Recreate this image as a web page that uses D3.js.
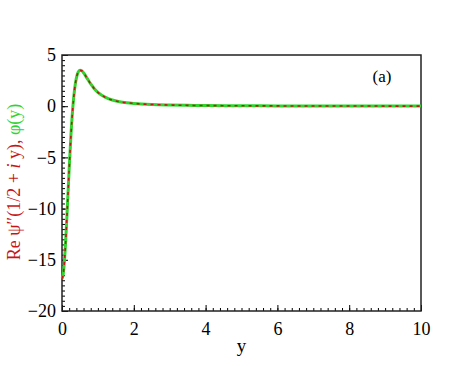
<!DOCTYPE html>
<html lang="en">
<head>
    <meta charset="UTF-8">
    <title>psi</title>
    <script src="https://cdn.jsdelivr.net/npm/d3@7"></script>
    <style>
        body{ margin:0; background:#fff; }
        svg text{ font-family: "Liberation Serif", "Times New Roman", serif; }
    </style>
</head>
<body>
    <svg id="main-svg" width="474" height="366"></svg>

    <script>
        // values
        const ys = [0, 0.025, 0.05, 0.1, 0.15, 0.2, 0.25, 0.3, 0.35, 0.4, 0.45, 0.5, 0.55, 0.6, 0.7, 0.8, 0.9, 1.0,
                    1.2, 1.4, 1.6, 1.8, 2.0, 2.5, 3.0, 3.5, 4, 5, 6, 7, 8, 9, 10];
        const rePsi = [-16.83, -16.59, -15.89, -13.33, -9.81, -6.10, -2.78, -0.18, 1.63, 2.74, 3.32, 3.51, 3.46, 3.27, 2.72, 2.17, 1.71, 1.35,
                    0.88, 0.60, 0.44, 0.34, 0.27, 0.167, 0.115, 0.083, 0.064, 0.040, 0.028, 0.021, 0.016, 0.012, 0.010];
        const phi = [-16.83, -16.59, -15.89, -13.33, -9.81, -6.10, -2.78, -0.18, 1.63, 2.74, 3.32, 3.51, 3.46, 3.27, 2.72, 2.17, 1.71, 1.35,
                    0.88, 0.60, 0.44, 0.34, 0.27, 0.167, 0.115, 0.083, 0.064, 0.040, 0.028, 0.021, 0.016, 0.012, 0.010];
        const xTicks = [0, 2, 4, 6, 8, 10];
        const yTicks = [-20, -15, -10, -5, 0, 5];

        const W = 474, H = 366;
        const m = {l: 62, r: 53, t: 55, b: 55};
        const svg = d3.select('#main-svg');

        const x = d3.scaleLinear().domain([0, 10]).range([m.l, W - m.r]);
        const y = d3.scaleLinear().domain([-20, 5]).range([H - m.b, m.t]);

        const fmt = d => d < 0 ? '\u2212' + Math.abs(d) : String(d);

        // minor ticks
        svg.append('g')
            .attr('transform', 'translate(0,' + (H - m.b) + ')')
            .call(d3.axisBottom(x).tickValues(d3.range(0, 10.01, 0.2)).tickSize(-3).tickFormat(''))
            .call(g => g.select('.domain').remove());
        svg.append('g')
            .attr('transform', 'translate(' + m.l + ',0)')
            .call(d3.axisLeft(y).tickValues(d3.range(-20, 5.01, 0.5)).tickSize(-3).tickFormat(''))
            .call(g => g.select('.domain').remove());

        // major ticks + labels
        svg.append('g')
            .attr('transform', 'translate(0,' + (H - m.b) + ')')
            .call(d3.axisBottom(x).tickValues(xTicks).tickSize(-6).tickPadding(11).tickFormat(fmt))
            .call(g => g.select('.domain').remove())
            .call(g => g.selectAll('text').style('font-size', '18px').attr('fill', '#000'));
        svg.append('g')
            .attr('transform', 'translate(' + m.l + ',0)')
            .call(d3.axisLeft(y).tickValues(yTicks).tickSize(-6).tickPadding(6).tickFormat(fmt))
            .call(g => g.select('.domain').remove())
            .call(g => g.selectAll('text').style('font-size', '18px').attr('fill', '#000'));

        // frame
        svg.append('rect')
            .attr('x', m.l).attr('y', m.t)
            .attr('width', W - m.l - m.r).attr('height', H - m.t - m.b)
            .attr('fill', 'none').attr('stroke', '#222').attr('stroke-width', 1.5);

        const line = d3.line().x(d => x(d[0])).y(d => y(d[1])).curve(d3.curveMonotoneX);

        svg.append('path')
            .datum(ys.map((v, i) => [v, phi[i]]))
            .attr('d', line)
            .attr('fill', 'none').attr('stroke', '#2fd42f').attr('stroke-width', 3);

        svg.append('path')
            .datum(ys.map((v, i) => [v, rePsi[i]]))
            .attr('d', line)
            .attr('fill', 'none').attr('stroke', '#c81414').attr('stroke-width', 1.6)
            .attr('stroke-dasharray', '3,4');

        // labels
        svg.append('text')
            .attr('x', x(5)).attr('y', 352)
            .attr('text-anchor', 'middle').style('font-size', '19px')
            .text('y');

        svg.append('text')
            .attr('x', 382).attr('y', 82)
            .attr('text-anchor', 'middle').style('font-size', '17px')
            .text('(a)');

        const yl = svg.append('text')
            .attr('transform', 'translate(20,182) rotate(-90)')
            .attr('text-anchor', 'middle').style('font-size', '18px');
        yl.append('tspan').attr('fill', '#c81414').text('Re \u03C8\u2032\u2032(1/2 + ');
        yl.append('tspan').attr('fill', '#c81414').attr('font-style', 'italic').text('i');
        yl.append('tspan').attr('fill', '#c81414').text(' y), ');
        yl.append('tspan').attr('fill', '#2fd42f').text('\u03C6(y)');
    </script>
</body>
</html>
